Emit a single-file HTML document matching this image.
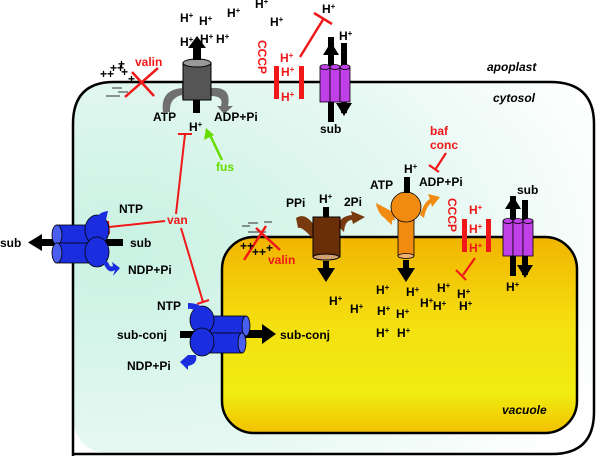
<!DOCTYPE html>
<html><head><meta charset="utf-8"><style>
html,body{margin:0;padding:0;background:#fff}
svg{display:block}
text{font-family:"Liberation Sans",sans-serif;font-weight:bold;font-size:12px}
.r{fill:#f01818}
</style></head><body>
<svg width="600" height="456" viewBox="0 0 600 456" xmlns="http://www.w3.org/2000/svg">
<defs>
<radialGradient id="cg" cx="0.2" cy="0.45" r="0.9">
<stop offset="0" stop-color="#c8f2e2"/><stop offset="0.6" stop-color="#e6f8f2"/><stop offset="1" stop-color="#ffffff"/>
</radialGradient>
<linearGradient id="vg" x1="0" y1="0" x2="0" y2="1">
<stop offset="0" stop-color="#f2b400"/><stop offset="0.45" stop-color="#f4e010"/><stop offset="0.8" stop-color="#f0ec10"/><stop offset="1" stop-color="#f2c000"/>
</linearGradient>
</defs>
<!-- cell -->
<path d="M0,82 L550,82 Q594,82 594,124 L594,412 Q594,454 552,454 L114,454 Q73,454 73,412 L73,124 Q73,82 114,82" fill="url(#cg)" stroke="none"/>
<path d="M73,456 L73,124 Q73,82 114,82 L550,82 Q594,82 594,124 L594,412 Q594,454 552,454 L73,454" fill="none" stroke="#000" stroke-width="2.5"/>
<!-- vacuole -->
<rect x="222" y="237" width="355" height="196" rx="32" fill="url(#vg)" stroke="#000" stroke-width="2.5"/>
<text x="487" y="71" font-style="italic">apoplast</text>
<text x="493" y="102" font-style="italic">cytosol</text>
<text x="502" y="414" font-style="italic">vacuole</text>

<!-- top H+ -->
<g font-size="12">
<text x="180" y="22">H<tspan dy="-4" font-size="8">+</tspan></text>
<text x="199" y="25">H<tspan dy="-4" font-size="8">+</tspan></text>
<text x="227" y="17">H<tspan dy="-4" font-size="8">+</tspan></text>
<text x="255" y="8">H<tspan dy="-4" font-size="8">+</tspan></text>
<text x="270" y="26">H<tspan dy="-4" font-size="8">+</tspan></text>
<text x="180" y="46">H<tspan dy="-4" font-size="8">+</tspan></text>
<text x="200" y="43">H<tspan dy="-4" font-size="8">+</tspan></text>
<text x="216" y="43">H<tspan dy="-4" font-size="8">+</tspan></text>
<text x="339" y="40">H<tspan dy="-4" font-size="8">+</tspan></text>
<text x="322" y="13">H<tspan dy="-4" font-size="8">+</tspan></text>
</g>
<!-- valin top -->
<text x="135" y="66" class="r">valin</text>
<g font-size="10"><text x="110" y="72">++</text><text x="118" y="68">+</text><text x="121" y="76">+</text><text x="100" y="78">++</text><text x="128" y="83">+</text></g>
<path d="M112,88h10M118,92h10M106,96h14" stroke="#555" stroke-width="1.3"/>
<path d="M125,97 L158,68 M132,72 L154,96" stroke="#f01818" stroke-width="2.5"/>
<!-- plasma membrane ATPase -->
<path d="M163,112 Q160,90 182,88 l0,-5 8,9 -8,7 0,-4 Q169,98 170,112z" fill="#707070"/>
<path d="M211,88 Q232,86 228,106 l5,0 -9,8 -7,-8 4,0 Q224,96 211,96z" fill="#707070"/>
<rect x="183" y="63" width="28" height="37" fill="#555" stroke="#000"/>
<ellipse cx="197" cy="63" rx="14" ry="4" fill="#999" stroke="#000"/>
<rect x="193" y="100" width="7" height="13" fill="#000"/>
<path d="M193,60 L193,48 L188,48 L197,36 L206,48 L201,48 L201,60z" fill="#000"/>
<text x="153" y="121">ATP</text>
<text x="214" y="121">ADP+Pi</text>
<text x="189" y="131">H<tspan dy="-4" font-size="8">+</tspan></text>
<path d="M222,160 L210,135" stroke="#66dd00" stroke-width="2.5"/><path d="M206,128 L204,140 L214,135z" fill="#66dd00"/>
<text x="216" y="171" fill="#66dd00">fus</text>
<!-- CCCP top -->
<text x="258" y="40" class="r" font-size="11" transform="rotate(90 258 40)">CCCP</text>
<rect x="274" y="66" width="5" height="33" fill="#f01818"/><rect x="299" y="66" width="5" height="33" fill="#f01818"/>
<g class="r"><text x="280" y="62">H<tspan dy="-4" font-size="8">+</tspan></text><text x="281" y="76">H<tspan dy="-4" font-size="8">+</tspan></text><text x="281" y="101">H<tspan dy="-4" font-size="8">+</tspan></text></g>
<path d="M300,57 L324,18 M314,13 L332,24" stroke="#f01818" stroke-width="2.5"/>
<!-- purple top -->
<rect x="328" y="37" width="6" height="85" fill="#000"/><rect x="341" y="43" width="6" height="70" fill="#000"/>
<path d="M323,55 L331,42 L339,55z" fill="#000"/><path d="M336,103 L344,116 L352,103z" fill="#000"/>
<g fill="#c040e8" stroke="#000" stroke-width="0.8"><rect x="320" y="67" width="10" height="35"/><rect x="330" y="67" width="10" height="35"/><rect x="340" y="67" width="10" height="35"/>
<ellipse cx="325" cy="67" rx="5" ry="2.5"/><ellipse cx="335" cy="67" rx="5" ry="2.5"/><ellipse cx="345" cy="67" rx="5" ry="2.5"/></g>
<text x="320" y="133">sub</text>
<!-- van lines -->
<path d="M176,214 L185,134 M178,134 L192,134" stroke="#f01818" stroke-width="2"/>
<text x="167" y="224" class="r">van</text>
<path d="M165,221 L109,227 M108,221 L109,234" stroke="#f01818" stroke-width="2"/>
<path d="M181,228 L203,302 M197,304 L209,300" stroke="#f01818" stroke-width="2"/>
<!-- left blue transporter -->
<rect x="85" y="239" width="38" height="7" fill="#000"/>
<rect x="40" y="239" width="18" height="7" fill="#000"/>
<path d="M42,234 L28,242.5 L42,251z" fill="#000"/>
<g fill="#1a2ee0" stroke="#000" stroke-width="0.8">
<rect x="56" y="225" width="38" height="20"/><ellipse cx="57" cy="235" rx="5" ry="10" fill="#4a5ef0"/>
<rect x="56" y="243" width="38" height="20"/><ellipse cx="57" cy="253" rx="5" ry="10" fill="#4a5ef0"/>
<ellipse cx="97" cy="230" rx="12" ry="15"/><ellipse cx="97" cy="252" rx="12" ry="15"/>
</g>
<path d="M108,211 Q95,213 99,221 L106,220z M103,262 Q108,275 115,270 L113,276 L120,268 L112,262 L113,266 Q110,268 108,262z" fill="#1a2ee0"/>
<text x="119" y="213">NTP</text>
<text x="130" y="247">sub</text>
<text x="128" y="274">NDP+Pi</text>
<text x="0" y="247">sub</text>
<!-- bottom blue transporter -->
<rect x="180" y="331" width="30" height="7" fill="#000"/>
<path d="M240,330 L262,330 L262,324 L276,334 L262,344 L262,338 L240,338z" fill="#000"/>
<g fill="#1a2ee0" stroke="#000" stroke-width="0.8">
<rect x="210" y="316" width="36" height="20"/><ellipse cx="246" cy="326" rx="4" ry="10" fill="#4a5ef0"/>
<rect x="206" y="333" width="36" height="20"/><ellipse cx="242" cy="343" rx="4" ry="10" fill="#4a5ef0"/>
<ellipse cx="202" cy="320" rx="12" ry="14"/><ellipse cx="202" cy="342" rx="12" ry="14"/>
</g>
<path d="M188,303 Q200,303 204,310 L196,312 Q192,308 188,309z M188,355 L180,362 L188,370 L188,366 Q198,364 196,355z" fill="#1a2ee0"/>
<text x="157" y="310">NTP</text>
<text x="117" y="339">sub-conj</text>
<text x="127" y="370">NDP+Pi</text>
<text x="280" y="339">sub-conj</text>
<!-- valin bottom -->
<path d="M242,226h8M248,223h10M264,222h8M248,232h18" stroke="#555" stroke-width="1.3"/>
<path d="M266,226 L244,260 M256,228 L280,250" stroke="#f01818" stroke-width="2.5"/>
<g font-size="10"><text x="240" y="250">++</text><text x="252" y="256">++</text><text x="266" y="252">+</text></g>
<text x="268" y="264" class="r">valin</text>
<!-- PPase brown -->
<path d="M296,218 Q305,212 314,225 L314,240 Q302,226 298,228z" fill="#7a3a10"/>
<path d="M338,226 Q340,216 352,215 L351,211 L365,217 L353,224 L352,220 Q345,220 344,232z" fill="#7a3a10"/>
<rect x="313" y="217" width="27" height="40" fill="#6a2e08" stroke="#000"/>
<ellipse cx="326" cy="257" rx="13" ry="3" fill="#d0a070" stroke="#000"/>
<rect x="323" y="207" width="6" height="10" fill="#000"/>
<path d="M323,261 L323,268 L317,268 L326,282 L335,268 L329,268 L329,261z" fill="#000"/>
<text x="286" y="207">PPi</text>
<text x="319" y="203">H<tspan dy="-4" font-size="8">+</tspan></text>
<text x="344" y="206">2Pi</text>
<!-- V-ATPase orange -->
<path d="M376,205 Q384,210 392,215 L392,225 Q380,215 376,205z" fill="#f08a10"/>
<path d="M376,203 Q380,222 395,220 L393,212z" fill="#f08a10"/>
<path d="M420,215 Q424,202 430,199 L428,194 L440,197 L432,207 L431,203 Q426,207 424,218z" fill="#f08a10"/>
<rect x="398" y="220" width="16" height="36" fill="#f08a10" stroke="#000" stroke-width="0.8"/>
<ellipse cx="406" cy="256" rx="8" ry="2.5" fill="#f0b070" stroke="#000" stroke-width="0.8"/>
<circle cx="406" cy="207" r="15" fill="#f08a10" stroke="#000" stroke-width="0.8"/>
<rect x="404" y="177" width="6" height="16" fill="#000"/>
<path d="M403,260 L403,268 L397,268 L406,282 L415,268 L409,268 L409,260z" fill="#000"/>
<text x="370" y="189">ATP</text>
<text x="419" y="186">ADP+Pi</text>
<text x="404" y="173">H<tspan dy="-4" font-size="8">+</tspan></text>
<text x="430" y="135" class="r">baf</text>
<text x="430" y="149" class="r">conc</text>
<path d="M446,153 L435,170 M429,165 L439,172" stroke="#f01818" stroke-width="2.2"/>
<!-- CCCP bottom -->
<text x="448" y="198" class="r" font-size="11" transform="rotate(90 448 198)">CCCP</text>
<rect x="462" y="219" width="5" height="33" fill="#f01818"/><rect x="486" y="219" width="5" height="33" fill="#f01818"/>
<g class="r"><text x="469" y="214">H<tspan dy="-4" font-size="8">+</tspan></text><text x="469" y="233">H<tspan dy="-4" font-size="8">+</tspan></text><text x="469" y="252">H<tspan dy="-4" font-size="8">+</tspan></text></g>
<path d="M475,258 L463,275 M456,270 L466,280" stroke="#f01818" stroke-width="2.2"/>
<!-- purple bottom -->
<rect x="510" y="196" width="6" height="80" fill="#000"/><rect x="522" y="200" width="6" height="75" fill="#000"/>
<path d="M505,209 L513,196 L521,209z" fill="#000"/><path d="M517,265 L525,278 L533,265z" fill="#000"/>
<g fill="#c040e8" stroke="#000" stroke-width="0.8"><rect x="503" y="221" width="10" height="35"/><rect x="513" y="221" width="10" height="35"/><rect x="523" y="221" width="10" height="35"/>
<ellipse cx="508" cy="221" rx="5" ry="2.5"/><ellipse cx="518" cy="221" rx="5" ry="2.5"/><ellipse cx="528" cy="221" rx="5" ry="2.5"/></g>
<text x="517" y="194">sub</text>
<text x="506" y="291">H<tspan dy="-4" font-size="8">+</tspan></text>
<!-- vacuole H+ -->
<g>
<text x="329" y="305">H<tspan dy="-4" font-size="8">+</tspan></text>
<text x="350" y="313">H<tspan dy="-4" font-size="8">+</tspan></text>
<text x="376" y="294">H<tspan dy="-4" font-size="8">+</tspan></text>
<text x="377" y="315">H<tspan dy="-4" font-size="8">+</tspan></text>
<text x="396" y="318">H<tspan dy="-4" font-size="8">+</tspan></text>
<text x="376" y="337">H<tspan dy="-4" font-size="8">+</tspan></text>
<text x="397" y="337">H<tspan dy="-4" font-size="8">+</tspan></text>
<text x="406" y="296">H<tspan dy="-4" font-size="8">+</tspan></text>
<text x="437" y="292">H<tspan dy="-4" font-size="8">+</tspan></text>
<text x="420" y="307">H<tspan dy="-4" font-size="8">+</tspan></text>
<text x="433" y="310">H<tspan dy="-4" font-size="8">+</tspan></text>
<text x="457" y="298">H<tspan dy="-4" font-size="8">+</tspan></text>
<text x="459" y="310">H<tspan dy="-4" font-size="8">+</tspan></text>
</g>
</svg>
</body></html>
